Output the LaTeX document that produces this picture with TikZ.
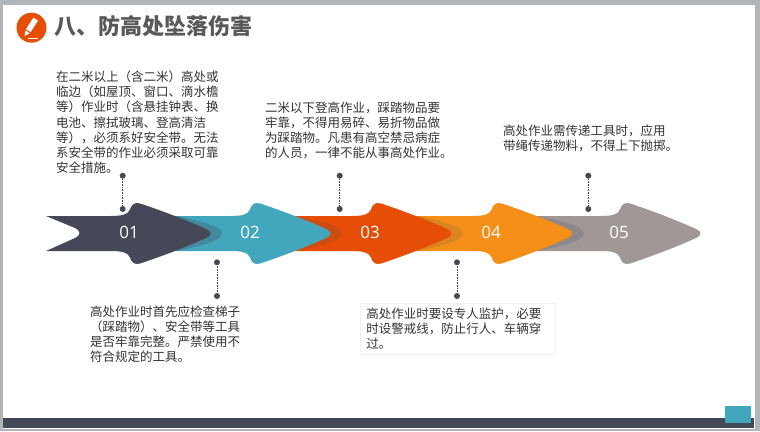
\documentclass[tikz,border=0pt]{standalone}
\usepackage{fontspec}
\setmainfont{Open Sans}
\newfontfamily\cjk{Noto Sans CJK SC}
\usetikzlibrary{
  positioning,
}
\definecolor{slate}{HTML}{454857}
\definecolor{teal}{HTML}{42A6BD}
\definecolor{rust}{HTML}{E64D06}
\definecolor{amber}{HTML}{F68F17}
\definecolor{stone}{HTML}{A09896}
\definecolor{frame}{HTML}{B2B5B7}
\tikzset{
  bigarrow/.pic={
    \fill[pic actions] (-#1,-17.5) -- (-19,-17.5)
    .. controls (-8,-17.5) and (-2,-19) .. (0,-24)
    .. controls (1.5,-29.5) and (5,-31.5) .. (10,-30)
    .. controls (30,-23.5) and (60,-12) .. (76,-4.5)
    .. controls (82,-2) and (82,2) .. (76,4.5)
    .. controls (60,12) and (30,23.5) .. (10,30)
    .. controls (5,31.5) and (1.5,29.5) .. (0,24)
    .. controls (-2,19) and (-8,17.5) .. (-19,17.5)
    -- (-#1,17.5) -- cycle;
  },
  tipshade/.pic={
    \fill[pic actions] (47,-17.5)
    .. controls (70,-12) and (92,-8) .. (92,0)
    .. controls (92,8) and (70,12) .. (47,17.5) -- cycle;
  },
  dot/.style={
    circle,
    inner sep=0pt,
    minimum size=6pt,
    fill=slate,
  },
  leader/.style={
    dash pattern=on 1pt off 0.6pt,
    line width=0.6pt,
    slate,
  },
  bodytext/.style={
    anchor=north west,
    inner sep=0pt,
    align=left,
    text=black!80,
    font=\cjk\fontsize{12.5}{15.2}\selectfont,
  },
  numlabel/.style={
    text=white,
    font=\fontsize{17}{20}\selectfont,
  },
}
\begin{document}
\begin{tikzpicture}[x=1pt, y=-1pt]

  % Slide
  \fill[frame] (0,0) rectangle (760,431);
  \useasboundingbox (0,0) rectangle (760,431);
  \fill[white] (3,5) rectangle (755,429);
  \fill[slate] (3,418) rectangle (754,427.5);
  \fill[teal] (725,406) rectangle (751,423);

  % Title
  \node (badge) [circle, fill=rust, minimum size=30pt, inner sep=0pt] at (31.5,27.7) {};
  \fill[white] (33.4,17.6) -- (38,20.6) -- (30.6,32.2) -- (26,29.2) -- cycle;
  \fill[white] (25.4,30.4) -- (29.6,33.2) -- (24.6,36) -- cycle;
  \draw[white, line width=0.6pt] (28,38) -- (37.5,38);
  \node (title) [right=8pt of badge, inner sep=0pt, yshift=2pt, text=black!65,
    font=\cjk\bfseries\fontsize{22}{26}\selectfont] {八、防高处坠落伤害};

  % Arrows, last one first
  \pic[fill=stone] at (620,233.5) {bigarrow=130};
  \pic[fill=slate, opacity=0.2] at (491.7,233.5) {tipshade};
  \pic[fill=amber] at (491.7,233.5) {bigarrow=80};
  \pic[fill=slate, opacity=0.15] at (371,233.5) {tipshade};
  \pic[fill=rust] at (371,233.5) {bigarrow=81};
  \pic[fill=slate, opacity=0.15] at (250,233.5) {tipshade};
  \pic[fill=teal] at (250,233.5) {bigarrow=80};
  \pic[fill=slate, opacity=0.3] at (130,233.5) {tipshade};
  \pic[fill=slate] at (130,233.5) {bigarrow=18};
  \fill[slate] (46,216) -- (112.5,216) -- (112.5,251) -- (46,251)
    -- (75,238) .. controls (81,235) and (81,231) .. (75,228) -- cycle;

  % Numbers
  \node (num01) [numlabel] at (129,232) {01};
  \node (num02) [numlabel] at (250,232) {02};
  \node (num03) [numlabel] at (370,232) {03};
  \node (num04) [numlabel] at (491,232) {04};
  \node (num05) [numlabel] at (619,232) {05};

  % Texts
  \node (text01) [bodytext] at (56,70.5) {在二米以上（含二米）高处或\\临边（如屋顶、窗口、滴水檐\\等）作业时（含悬挂钟表、换\\电池、擦拭玻璃、登高清洁\\等），必须系好安全带。无法\\系安全带的作业必须采取可靠\\安全措施。};
  \node (text02) [bodytext] at (90,305.5) {高处作业时首先应检查梯子\\（踩踏物）、安全带等工具\\是否牢靠完整。严禁使用不\\符合规定的工具。};
  \node (text03) [bodytext] at (265,101.5) {二米以下登高作业，踩踏物品要\\牢靠，不得用易碎、易折物品做\\为踩踏物。凡患有高空禁忌病症\\的人员，一律不能从事高处作业。};
  \node (text04) [bodytext, draw=black!6, line width=0.5pt, inner xsep=6pt, inner ysep=4pt,
    text width=183pt, minimum height=51pt] at (360,303) {高处作业时要设专人监护，必要\\时设警戒线，防止行人、车辆穿\\过。};
  \node (text05) [bodytext] at (503,124.5) {高处作业需传递工具时，应用\\带绳传递物料，不得上下抛掷。};

  % Leaders
  \node (top01) [dot] at (122.7,175.7) {};
  \node (end01) [dot] at (122.7,209) {};
  \node (top02) [dot] at (217,262.3) {};
  \node (end02) [dot] at (217,296) {};
  \node (top03) [dot] at (339.7,175.7) {};
  \node (end03) [dot] at (339.7,209) {};
  \node (top04) [dot] at (457,262.3) {};
  \node (end04) [dot] at (457,296) {};
  \node (top05) [dot] at (588.3,175.7) {};
  \node (end05) [dot] at (588.3,209) {};

  \draw [leader] (top01) to (end01);
  \draw [leader] (top02) to (end02);
  \draw [leader] (top03) to (end03);
  \draw [leader] (top04) to (end04);
  \draw [leader] (top05) to (end05);

\end{tikzpicture}
\end{document}
